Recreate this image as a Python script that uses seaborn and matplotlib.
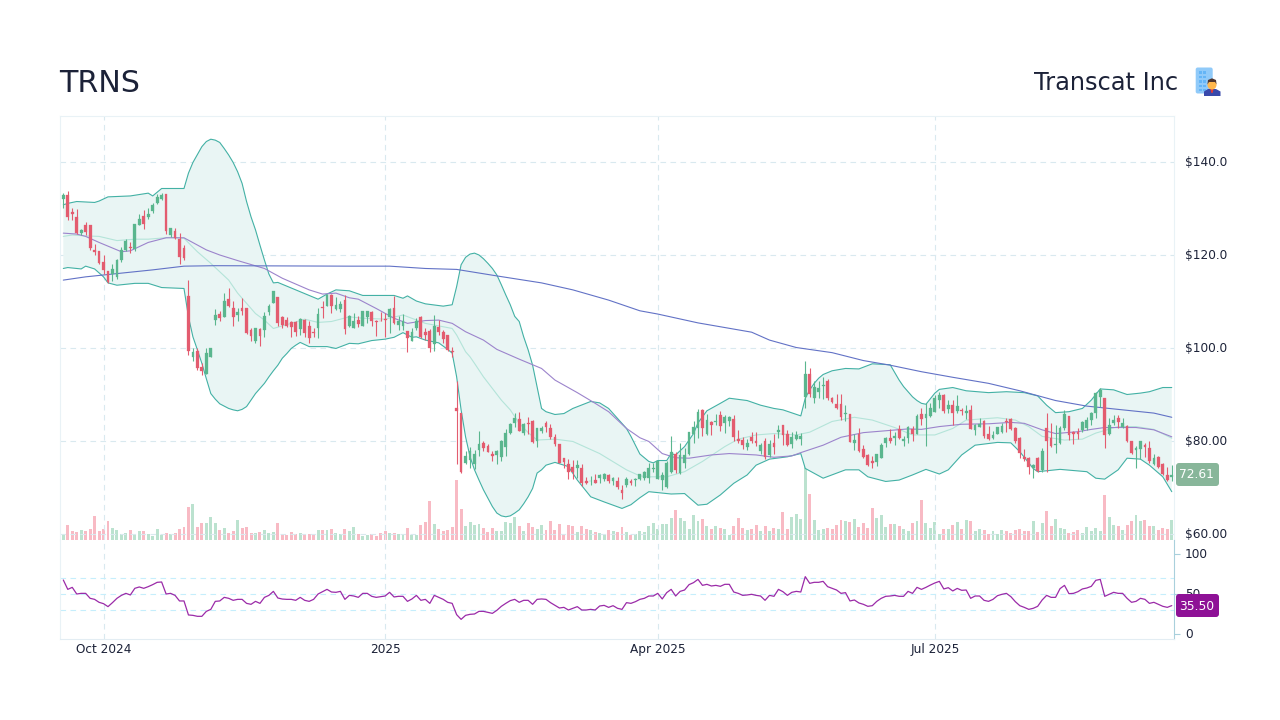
"""
TRNS daily candles with bollinger bands, moving averages, volume and RSI
"""

import matplotlib
matplotlib.use('Agg')
import matplotlib.pyplot as plt
from matplotlib.patches import Circle, FancyBboxPatch, Polygon, Rectangle
from matplotlib.transforms import ScaledTranslation
import numpy as np
import seaborn as sns

opens = [132.1,132.8,129.2,128.1,124.8,126.4,126.4,121.1,120.8,118.6,
         116.5,115.9,115.3,118.9,121.1,121.7,121.2,126.5,128.4,128.2,
         129.5,131.1,132.0,133.1,124.2,125.1,123.5,121.5,111.2,98.1,
         99.3,96.0,94.5,98.1,106.0,107.4,106.7,110.5,108.6,107.0,
         108.6,108.5,103.9,101.4,104.0,103.9,107.8,109.7,110.9,106.7,
         106.0,105.6,105.6,104.0,106.0,104.7,103.4,104.2,108.9,109.0,
         111.4,108.3,108.4,110.3,104.7,104.4,106.0,104.8,106.6,107.8,
         105.9,105.8,106.2,106.7,108.6,105.0,104.7,103.7,101.6,104.2,
         106.7,103.5,103.7,100.9,104.6,103.4,102.8,99.4,87.1,86.0,
         75.2,75.9,75.1,78.1,79.6,78.9,77.3,77.0,76.6,78.8,
         81.7,83.9,84.7,81.8,83.8,84.3,79.9,82.2,83.9,82.9,
         80.9,79.3,76.3,75.1,74.4,74.1,74.2,71.4,71.3,71.6,
         72.1,71.9,72.6,71.5,71.3,69.5,70.5,71.5,71.6,71.8,
         72.0,72.0,73.9,71.8,71.7,70.0,73.4,77.3,73.2,75.2,
         77.3,81.6,82.7,86.6,81.4,84.1,84.1,85.6,83.9,84.4,
         84.7,80.4,80.2,78.8,80.8,80.0,77.9,79.9,77.0,79.5,
         81.9,83.4,81.4,79.4,80.4,80.4,89.5,94.5,89.2,90.6,
         91.9,92.8,89.2,88.0,88.0,85.8,85.7,79.6,81.6,78.3,
         77.0,75.8,75.5,76.4,79.6,80.7,80.6,82.5,79.9,80.7,
         82.5,81.6,85.8,85.0,85.4,86.3,88.8,89.9,86.8,87.7,
         86.5,86.7,86.1,86.7,82.4,83.1,84.3,81.4,80.6,81.6,
         82.0,84.3,84.8,82.9,80.7,76.5,76.3,74.1,76.3,73.8,
         82.7,80.6,79.1,79.6,82.7,85.3,82.0,82.0,82.4,82.7,
         84.5,86.0,89.5,89.2,81.4,83.9,85.0,83.1,83.3,80.0,
         78.1,78.2,79.2,78.6,75.0,76.6,75.1,72.7,72.3]
closes = [132.9,128.1,128.9,124.7,125.3,125.0,121.6,120.6,118.2,116.8,
          114.1,117.0,118.9,121.1,123.1,121.4,126.6,127.7,126.7,128.8,
          130.8,132.5,132.8,125.2,125.7,123.6,119.6,119.4,99.4,99.1,
          95.6,95.1,99.0,100.0,107.1,106.5,110.0,109.1,106.7,107.8,
          108.0,103.3,102.6,104.3,102.6,106.9,109.0,112.2,105.4,105.0,
          104.8,104.6,103.5,106.2,103.3,102.1,103.2,107.3,108.7,111.4,
          109.0,109.2,109.4,104.0,106.8,105.8,105.2,107.9,108.0,105.9,
          105.5,105.7,106.0,108.4,105.3,105.8,105.9,102.1,103.4,105.7,
          102.3,102.8,100.1,104.7,103.4,101.9,99.6,99.2,86.5,73.4,
          76.8,77.9,77.2,79.4,78.6,77.7,76.8,77.8,80.1,81.7,
          83.6,84.9,82.2,83.6,83.6,79.8,82.7,82.9,83.1,80.8,
          79.4,75.3,75.5,73.3,73.3,74.8,70.9,70.9,71.5,71.0,
          72.7,73.0,71.5,72.0,70.0,68.9,71.8,71.0,71.8,72.8,
          73.4,74.3,74.3,75.6,72.7,75.3,77.6,73.8,77.0,77.0,
          81.9,83.1,86.2,82.9,84.5,83.4,84.3,83.3,85.1,85.1,
          80.9,80.0,79.1,79.5,79.9,79.6,79.1,76.6,79.3,78.8,
          82.4,81.3,79.1,80.8,81.2,81.1,94.4,90.1,91.7,91.3,
          92.0,89.2,88.4,87.0,85.2,86.1,79.8,80.2,77.9,76.5,
          74.8,75.3,77.3,79.1,80.7,80.0,81.1,80.6,80.4,83.1,
          81.6,85.4,84.8,85.9,87.2,89.2,89.9,86.4,87.7,86.0,
          87.5,86.4,86.5,82.5,83.4,83.6,81.1,80.4,81.3,83.0,
          83.2,84.0,82.5,79.9,77.4,76.1,74.5,74.8,73.6,77.8,
          79.9,78.9,79.4,82.9,85.8,81.3,81.6,81.6,84.0,84.5,
          86.0,90.4,91.0,81.3,83.4,84.5,84.0,83.8,79.9,77.5,
          78.4,80.0,78.8,75.6,76.3,74.5,72.9,71.6,72.6]
highs = [133.3,133.7,130.0,129.8,125.5,127.1,126.5,122.4,120.9,120.0,
         116.6,118.1,119.1,121.8,123.4,122.7,126.7,128.8,129.7,130.1,
         131.1,133.1,133.4,133.1,125.9,125.9,124.7,122.1,114.6,100.0,
         100.0,96.8,99.9,100.1,108.3,108.0,111.9,112.8,110.0,108.5,
         110.7,108.6,104.2,104.4,104.2,107.8,109.5,112.2,111.0,106.9,
         106.7,105.7,105.7,106.4,106.2,105.8,104.4,108.5,110.0,111.7,
         111.6,110.9,110.0,111.4,107.1,107.5,106.9,108.0,108.0,108.0,
         106.0,107.8,107.6,108.5,111.2,106.9,107.3,103.7,104.4,106.4,
         106.9,104.4,104.0,107.0,106.0,103.9,102.8,100.2,93.0,86.1,
         77.9,78.7,78.1,82.2,80.1,79.4,77.9,78.1,80.2,82.5,
         83.8,86.1,86.2,83.8,85.1,84.5,82.9,83.2,84.2,83.7,
         81.5,79.4,76.4,76.1,75.9,75.9,75.1,72.3,72.5,72.8,
         73.0,73.2,72.8,72.2,72.2,70.5,72.3,71.8,72.0,73.0,
         73.6,75.2,75.3,75.8,73.4,75.6,81.1,77.6,79.5,78.4,
         82.0,84.2,86.8,86.8,85.8,84.4,85.9,86.5,85.6,85.4,
         85.6,82.4,80.9,80.4,82.0,82.0,79.6,80.6,80.2,81.4,
         83.4,83.4,82.4,82.0,82.2,81.8,97.1,95.6,92.8,92.8,
         93.7,93.3,89.5,90.0,90.0,87.7,85.8,81.6,82.9,79.1,
         77.2,76.7,77.3,79.5,80.9,82.6,82.0,83.4,81.1,83.2,
         83.2,85.8,87.0,88.2,88.1,89.9,90.6,90.1,88.8,88.8,
         89.8,87.2,87.8,87.7,83.6,85.0,84.5,83.2,82.2,83.1,
         83.8,84.9,84.9,83.1,80.8,78.2,76.5,75.1,76.5,78.6,
         86.0,83.8,83.4,83.2,86.7,85.4,82.2,82.7,84.2,85.2,
         86.3,90.6,91.3,89.2,84.9,85.6,85.6,84.9,83.4,80.1,
         78.9,80.1,79.5,79.9,77.2,76.8,75.2,74.5,74.8]
lows = [130.2,127.6,127.5,124.5,124.2,124.4,121.1,120.0,118.0,115.9,
        113.9,114.3,114.8,118.6,120.9,120.4,120.9,126.4,125.5,127.8,
        129.1,131.0,131.8,124.5,123.9,123.4,118.1,119.0,98.5,97.1,
        95.3,94.2,94.4,98.0,104.9,105.7,106.7,108.9,104.8,105.7,
        107.1,103.1,101.4,101.1,100.5,102.4,107.1,109.6,104.7,104.2,
        104.6,102.4,102.6,102.8,102.4,101.1,102.4,102.1,106.4,109.0,
        107.6,108.2,107.8,103.0,104.6,104.4,104.5,104.7,105.3,104.7,
        102.6,105.7,102.3,103.3,105.2,103.9,103.9,99.2,101.4,103.9,
        102.1,101.7,99.2,99.4,102.8,101.0,99.4,98.1,75.1,73.2,
        75.0,74.1,73.9,76.8,77.9,77.6,75.8,75.1,75.8,76.8,
        81.5,83.1,82.2,81.3,81.6,79.6,78.8,81.8,82.0,80.4,
        78.9,75.2,74.3,71.9,71.8,72.0,70.4,70.7,70.5,70.9,
        70.9,71.5,70.9,70.5,69.7,67.5,70.2,70.5,70.3,71.6,
        71.6,71.0,73.4,71.8,69.5,69.9,73.2,73.2,72.9,74.1,
        77.0,79.5,80.6,81.1,81.3,81.3,83.4,82.2,81.8,83.2,
        79.9,79.5,78.2,78.1,79.6,78.9,77.2,76.1,76.6,77.3,
        80.6,79.1,78.9,78.4,80.2,79.1,87.0,89.5,88.1,89.2,
        89.0,88.8,88.1,86.8,84.5,84.2,79.7,78.1,77.7,76.3,
        74.6,74.3,74.6,76.3,78.8,79.5,79.1,80.4,79.0,79.5,
        80.1,81.4,83.4,79.0,85.2,86.3,87.0,86.0,86.0,83.4,
        86.0,85.6,84.8,82.5,81.3,83.0,80.7,80.2,80.4,81.5,
        81.8,82.0,82.4,79.6,76.3,75.6,73.0,72.0,73.4,73.4,
        73.4,78.8,77.5,79.4,82.4,80.2,79.4,80.4,82.0,82.4,
        83.4,84.9,87.4,78.6,81.3,83.4,82.7,82.7,79.7,77.2,
        74.2,76.1,76.6,75.3,74.8,74.1,72.7,71.3,71.3]
# thousands of shares
volumes = [51,135,81,72,90,81,99,216,81,99,171,108,90,54,63,90,45,81,81,54,
           36,99,45,63,54,63,99,117,297,324,117,153,153,207,153,90,108,63,81,180,
           108,117,63,63,72,90,63,72,153,51,45,72,54,63,54,54,45,90,90,90,
           99,63,54,99,81,
           117,54,36,45,51,36,63,81,63,63,51,51,108,45,45,135,162,351,144,99,
           81,90,117,540,279,126,162,135,144,108,72,108,81,81,162,153,207,126,81,153,
           117,99,135,90,171,90,144,45,135,126,72,126,99,90,72,63,54,90,81,72,
           117,72,45,54,81,72,126,
           153,99,144,144,198,270,198,171,99,225,171,189,126,99,126,108,99,45,126,198,
           108,90,99,135,81,126,81,108,99,252,99,207,234,189,693,414,180,90,99,108,
           99,135,180,171,162,189,117,153,108,288,198,225,117,144,144,126,99,81,153,171,
           360,153,108,162,54,99,99,
           135,162,99,180,171,81,99,90,54,81,54,90,81,63,90,99,81,81,171,72,
           153,261,126,189,108,99,63,72,90,63,117,81,108,81,405,207,135,126,90,135,
           171,225,171,180,126,126,90,108,99,180]
rsi = [67.5,55.8,58.3,50.0,50.8,50.8,44.6,43.3,39.6,37.9,34.2,39.2,44.6,48.3,50.8,48.8,57.1,58.8,57.1,59.2,
       61.7,64.6,65.0,50.0,50.8,48.3,41.3,41.3,23.8,23.3,22.1,22.1,28.3,30.8,40.8,41.3,45.8,44.6,42.1,43.3,
       43.3,38.3,37.1,40.8,38.3,45.8,48.3,53.3,45.0,43.7,43.3,43.3,42.1,45.8,42.1,40.8,43.3,50.0,52.9,55.8,
       52.5,52.1,53.3,43.3,48.3,47.5,45.8,50.8,50.8,47.1,45.8,46.7,47.5,52.1,46.3,47.1,47.1,40.8,43.8,48.3,
       42.1,43.3,38.3,48.3,45.8,43.3,39.6,38.3,24.2,18.3,23.3,24.6,25.0,28.3,28.3,27.1,25.8,29.6,34.6,38.3,
       41.7,43.3,39.6,42.1,42.1,37.1,43.3,43.8,43.3,39.2,35.8,32.5,33.3,30.0,32.1,34.2,30.0,30.0,30.8,30.0,
       35.0,35.8,33.3,35.4,32.1,30.8,39.2,38.3,40.4,43.3,44.6,47.5,47.5,50.8,43.8,51.7,55.8,47.5,53.3,55.0,
       61.7,64.2,68.3,60.8,62.1,60.0,60.8,59.6,62.1,62.1,52.5,50.8,48.3,48.8,49.6,48.3,47.5,42.1,48.3,47.1,
       55.8,52.9,48.3,52.1,53.3,52.5,71.7,63.3,64.6,64.6,65.8,59.2,57.1,55.0,50.8,51.7,41.3,42.5,38.8,37.1,
       34.6,35.4,40.8,44.6,47.1,47.5,48.3,47.1,47.1,53.3,50.8,58.3,55.8,58.3,61.2,63.8,65.8,56.3,57.9,53.8,
       57.0,54.6,55.0,44.6,47.5,47.5,42.1,40.8,43.3,47.9,49.6,50.8,46.7,40.4,35.4,33.3,30.8,32.1,34.6,42.5,
       48.3,45.8,45.8,56.7,60.8,50.4,50.8,52.9,56.3,57.5,59.6,67.1,68.3,47.1,49.6,52.1,50.8,50.8,44.6,39.6,
       40.8,44.6,43.3,38.3,39.6,37.1,34.6,33.3,35.5]

upper_idx = [0,1,3,7,8,10,15,19,20,22,27,
             28,29,30,31,32,33,34,35,36,37,38,39,40,41,42,43,44,45,46,47,
             48,50,53,57,59,61,64,67,74,76,77,79,81,85,87,
             88,89,90,91,92,93,94,95,96,97,98,99,100,101,102,103,104,105,106,107,108,
             110,112,114,118,120,122,126,127,129,
             131,132,133,135,136,137,139,141,142,144,147,149,153,156,159,161,165,166,167,168,169,170,172,175,178,181,185,187,188,189,190,191,192,193,
             195,196,199,202,207,211,215,218,220,222,225,228,230,232,235,238,241,243,246,248]
upper_band = [130.8,131.1,131.5,131.3,131.6,132.5,132.7,133.3,132.7,134.3,134.3,
              137.6,139.9,141.6,143.3,144.4,144.9,144.7,144.2,142.9,141.5,139.9,137.9,135.4,131.5,128.2,125.4,122.1,118.9,115.9,114.0,
              114.1,113.3,112.1,110.5,111.6,112.5,112.3,111.3,111.3,110.7,111.2,110.1,109.5,109.0,109.3,
              113.2,117.9,119.5,120.2,120.4,120.0,119.2,118.2,117.1,115.7,113.6,111.4,109.3,106.8,105.7,102.4,99.6,96.3,91.7,87.0,86.3,
              85.7,85.9,87.0,88.5,88.2,87.0,82.7,81.0,77.2,
              75.6,75.3,75.8,75.8,77.3,77.0,78.8,81.6,83.9,86.5,88.1,89.2,88.7,87.7,87.0,86.7,85.4,89.2,91.0,92.4,93.5,94.3,95.1,95.6,95.5,96.6,96.4,93.1,91.7,90.6,89.5,88.7,88.1,87.9,
              90.3,91.1,91.5,90.8,90.4,90.6,90.4,89.7,87.7,86.1,86.3,87.0,88.8,91.2,91.0,90.0,90.3,90.6,91.5,91.5]
lower_idx = [0,1,4,5,7,9,10,12,16,19,22,27,
             28,29,30,31,32,33,34,35,36,37,38,39,40,41,42,43,44,45,46,47,48,49,50,51,52,53,
             55,59,61,64,66,69,72,74,76,78,79,81,84,86,87,
             88,89,90,91,92,93,94,95,96,97,98,99,100,101,102,103,104,105,106,107,108,
             110,113,115,118,121,125,127,129,131,133,136,139,142,144,147,150,153,155,158,162,165,166,170,175,178,180,184,187,190,193,
             196,198,201,204,209,212,214,217,218,223,229,231,233,236,238,241,243,246,248]
lower_band = [117.1,117.3,117.0,117.6,117.0,115.3,114.0,113.5,113.9,113.9,113.0,112.8,
              106.7,102.4,99.6,96.7,93.4,90.2,89.0,88.0,87.5,87.0,86.7,86.5,86.8,87.4,88.8,90.2,91.3,92.4,93.8,95.1,96.3,97.8,98.8,99.9,100.6,101.2,
              100.3,100.3,99.9,101.0,100.9,101.6,101.9,102.3,103.3,102.3,102.4,101.7,101.1,99.7,98.9,
              93.8,86.7,80.9,76.6,73.8,71.6,69.5,67.7,65.9,64.5,63.9,63.7,63.9,64.5,65.2,66.5,68.0,69.8,73.1,73.8,74.8,
              75.4,74.5,71.6,68.0,66.9,65.5,66.3,67.8,69.1,68.9,68.6,68.7,66.2,66.4,68.4,70.9,72.7,74.8,76.1,76.6,77.3,74.1,72.0,73.8,73.8,72.3,71.3,71.6,72.7,73.9,
              72.9,73.8,77.0,79.1,79.7,79.6,77.7,74.1,73.4,73.9,73.4,72.0,71.8,73.8,76.3,76.1,74.8,72.3,69.1]
sma20_idx = [0,2,5,8,12,16,19,24,27,30,33,35,37,39,41,43,45,47,51,54,57,60,64,67,72,76,81,87,88,89,90,91,92,94,96,98,100,102,104,106,110,114,120,126,129,
             131,135,139,143,148,151,155,159,164,167,172,177,181,186,190,195,199,202,209,213,216,219,224,228,231,236,240,244,248]
sma20 = [124.0,124.3,124.1,124.0,123.1,123.4,123.4,123.8,123.6,120.7,118.2,116.4,114.6,111.8,109.6,107.4,106.0,104.2,105.3,106.2,105.5,105.7,106.7,106.4,106.2,107.1,105.3,104.2,102.8,101.0,99.2,98.1,96.7,93.8,91.3,88.8,86.7,83.8,81.8,80.2,80.4,79.9,77.3,73.8,72.5,
         72.3,72.3,73.4,75.6,78.8,80.4,81.3,81.6,81.3,81.9,84.2,85.1,84.5,82.9,81.3,81.3,82.7,84.5,85.0,84.5,83.1,81.0,80.2,80.4,81.7,83.1,83.1,82.5,80.6]
sma50_idx = [0,3,5,8,13,15,19,23,27,32,35,39,45,49,55,58,61,64,66,70,74,77,81,84,87,90,94,97,102,107,110,115,119,122,126,129,
             131,134,137,140,145,149,155,159,163,165,170,174,179,184,189,192,196,201,207,212,215,219,222,227,230,233,240,244,248]
sma50 = [124.7,124.5,124.0,122.7,120.7,120.9,122.7,123.7,123.7,121.1,120.0,118.8,117.1,115.0,112.5,111.6,111.8,110.8,110.5,108.5,106.4,105.3,105.9,106.0,105.3,103.5,101.7,99.7,97.6,95.6,93.1,90.4,88.1,86.3,82.7,80.7,
         79.9,77.3,76.4,76.3,77.0,77.3,77.0,76.5,76.8,77.5,79.1,80.8,81.8,82.2,82.6,82.5,83.1,83.6,83.7,84.0,83.8,82.4,81.6,82.0,82.5,82.9,82.9,82.4,80.9]
sma200_idx = [0,5,12,20,27,34,64,73,81,88,97,107,114,122,129,133,142,154,158,164,172,179,185,192,199,207,214,222,229,237,244,248]
sma200 = [114.6,115.3,116.0,116.8,117.6,117.7,117.6,117.6,117.1,116.9,115.5,114.0,112.5,110.3,108.0,107.3,105.4,103.4,101.7,100.1,99.0,97.3,96.3,94.9,93.7,92.4,90.8,88.7,87.5,86.7,86.0,85.1]

price_ticks = [60, 80, 100, 120, 140]
price_labels = ['$60.00', '$80.00', '$100.0', '$120.0', '$140.0']
date_ticks = [9, 72, 133, 195]
date_labels = ['Oct 2024', '2025', 'Apr 2025', 'Jul 2025']
rsi_ticks = [0, 50, 100]
rsi_grid = [30, 50, 70]

GREEN = '#5ab68e'
RED = '#e35c6f'
TEXT = '#1c2238'
GRID = '#d9e9ef'
DASH = (0, (5, 4))

sns.set_theme(style='white')
plt.rcParams['font.family'] = ['DejaVu Sans']

fig = plt.figure(figsize=(12.8, 7.2), dpi=100)
ax_vol = fig.add_axes([60 / 1280, 180 / 720, 1114 / 1280, 424 / 720])
ax = fig.add_axes([60 / 1280, 180 / 720, 1114 / 1280, 424 / 720], sharex=ax_vol)
ax_rsi = fig.add_axes([60 / 1280, 81 / 720, 1114 / 1280, 99 / 720], sharex=ax_vol)
ax.patch.set_visible(False)

bars = np.arange(len(closes))
o, c, h, l = map(np.array, (opens, closes, highs, lows))
is_up = c >= o

# volume sits under the price pane on its own scale
sns.barplot(x=bars, y=volumes, hue=is_up, palette={True: '#bbe2cf', False: '#f8bac4'},
            native_scale=True, dodge=False, legend=False, width=0.66, saturation=1,
            linewidth=0, ax=ax_vol)
ax_vol.set_ylim(0, 3816)
ax_vol.axis('off')

# bollinger band
ax.fill(np.r_[upper_idx, lower_idx[::-1]], np.r_[upper_band, lower_band[::-1]],
        color='#e9f5f4', lw=0, zorder=1)
sns.lineplot(x=upper_idx, y=upper_band, color='#43b1a5', lw=0.8, ax=ax, zorder=3)
sns.lineplot(x=lower_idx, y=lower_band, color='#43b1a5', lw=0.8, ax=ax, zorder=3)
sns.lineplot(x=sma20_idx, y=sma20, color='#b4e4d9', lw=0.8, ax=ax, zorder=3)
sns.lineplot(x=sma50_idx, y=sma50, color='#9c84cc', lw=0.8, ax=ax, zorder=3)
sns.lineplot(x=sma200_idx, y=sma200, color='#6272c6', lw=0.8, ax=ax, zorder=3)

# candles
colors = np.where(is_up, GREEN, RED)
ax.vlines(bars, l, h, colors=colors, lw=0.8, zorder=4)
ax.bar(bars, np.abs(c - o), bottom=np.minimum(o, c), width=0.62, color=colors,
       edgecolor=colors, linewidth=0.2, zorder=5)

ax.set_ylim(58.71, 149.89)
ax.set_xlim(-0.74, 248.5)
ax.set_yticks(price_ticks)
ax.set_yticklabels(price_labels)
ax.set_xticks(date_ticks)
ax.grid(True, color=GRID, lw=0.8, ls=DASH)
ax.set_axisbelow(True)
ax.yaxis.tick_right()
ax.tick_params(axis='y', length=0, pad=8, labelsize=8.7, labelcolor=TEXT)
ax.tick_params(axis='x', length=0, labelbottom=False)
for name in ['left', 'right', 'top']:
    ax.spines[name].set_color('#e9f2f6')
    ax.spines[name].set_linewidth(0.8)
ax.spines['bottom'].set_visible(False)

# rsi pane
sns.lineplot(x=bars, y=rsi, color='#9b2ba8', lw=0.9, ax=ax_rsi, zorder=3)
ax_rsi.set_ylim(-6.25, 117.5)
ax_rsi.set_xlim(-0.74, 248.5)
ax_rsi.set_yticks(rsi_ticks)
ax_rsi.set_xticks(date_ticks)
ax_rsi.set_xticklabels(date_labels)
ax_rsi.set_ylabel('')
ax_rsi.grid(True, axis='x', color=GRID, lw=0.8, ls=DASH)
ax_rsi.set_axisbelow(True)
for level in rsi_grid:
    ax_rsi.axhline(level, color='#c6eefc', lw=0.8, ls=DASH, zorder=1)
ax_rsi.yaxis.tick_right()
ax_rsi.tick_params(axis='y', length=4, width=0.8, color='#a9d0dc', pad=4, labelsize=8.7, labelcolor=TEXT)
ax_rsi.tick_params(axis='x', length=0, pad=3, labelsize=8.7, labelcolor=TEXT)
ax_rsi.spines['top'].set_visible(False)
ax_rsi.spines['left'].set_color('#e9f2f6')
ax_rsi.spines['left'].set_linewidth(0.8)
ax_rsi.spines['bottom'].set_color('#e3edf3')
ax_rsi.spines['bottom'].set_linewidth(0.8)
ax_rsi.spines['right'].set_color('#a9d0dc')
ax_rsi.spines['right'].set_linewidth(0.8)

# tick labels sit a pixel higher in the original
nudge = ScaledTranslation(0, 1 / 100, fig.dpi_scale_trans)
for label in ax.get_yticklabels() + ax_rsi.get_yticklabels():
    label.set_transform(label.get_transform() + nudge)

# overlay in pixel coordinates for title, tags and icon
top = fig.add_axes([0, 0, 1, 1], zorder=10)
top.set_xlim(0, 1280)
top.set_ylim(720, 0)
top.axis('off')
top.text(59, 83.5, 'TRNS', fontsize=21.7, color=TEXT, va='center', ha='left')
top.text(1178, 83, 'Transcat Inc', fontsize=17.3, color=TEXT, va='center', ha='right')

for y0, col, label in [(463, '#88b69a', '72.61'), (594, '#8e1196', '35.50')]:
    top.add_patch(FancyBboxPatch((1176, y0), 43, 23, boxstyle='round,pad=0,rounding_size=3',
                                 fc=col, ec='none'))
    top.text(1196.5, y0 + 12, label, color='white', fontsize=8.8, ha='center', va='center')

# building + person icon
top.add_patch(FancyBboxPatch((1195.7, 67.5), 17, 26, boxstyle='round,pad=0,rounding_size=2',
                             fc='#90caf9', ec='none'))
for wx in [1198.5, 1203]:
    for wy in [71, 75.5, 80, 84.5, 88.5]:
        top.add_patch(Rectangle((wx, wy), 3, 2.8, fc='#64b5f6', ec='none'))
top.add_patch(Polygon([(1204, 96), (1204, 91.5), (1208, 89), (1216, 89), (1220.5, 91.5), (1220.5, 96)],
                      fc='#3949ab', ec='none'))
top.add_patch(Polygon([(1210.5, 89), (1213.5, 89), (1212.6, 93), (1211.4, 93)], fc='#e53935', ec='none'))
top.add_patch(Circle((1212, 85), 4.5, fc='#ffb74d', ec='none'))
top.add_patch(Polygon([(1207.4, 84.5), (1208, 80), (1212, 78.3), (1216, 80), (1216.6, 84.5), (1215, 82),
                       (1209, 82)], fc='#4e342e', ec='none'))

plt.savefig('out.png', dpi=100)
